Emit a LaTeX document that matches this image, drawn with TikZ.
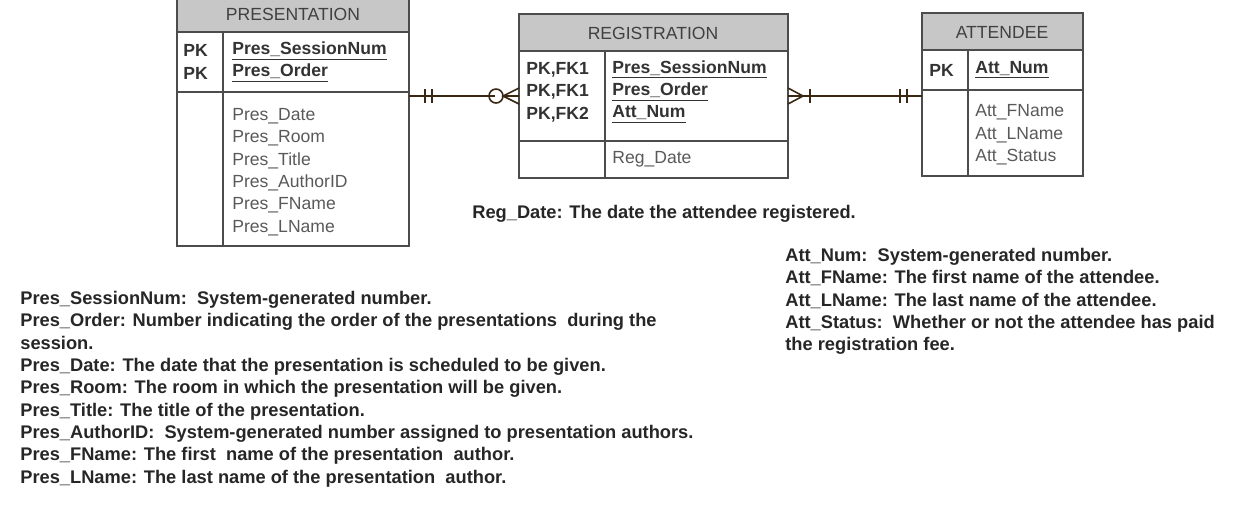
\documentclass[tikz,border=0pt]{standalone}
\usepackage{fontspec}
\setmainfont{Liberation Sans}
\usetikzlibrary{positioning,calc}

\begin{document}
\begin{tikzpicture}[x=0.02cm,y=-0.02cm,
  box/.style={draw=black!70, line width=0.6pt},
  head/.style={box, fill=black!22},
  hdtext/.style={font=\fontsize{10}{12}\selectfont, text=black!75},
  key/.style={anchor=west, font=\fontsize{10}{12.7}\selectfont\bfseries, text=black!80, align=left, inner sep=0pt},
  attr/.style={anchor=west, font=\fontsize{10}{12.7}\selectfont, text=black!65, align=left, inner sep=0pt},
  note/.style={anchor=north west, font=\fontsize{10.4}{12.7}\selectfont\bfseries, text=black!85, align=left, inner sep=0pt},
  rel/.style={draw=black!70!brown, line width=0.9pt}
]
  \useasboundingbox (0,0) rectangle (1256,522);

  % Presentation entity
  \draw[head] (177,-5) rectangle (409,32);
  \node[hdtext] (ptitle) at (293,14) {PRESENTATION};
  \draw[box] (177,32) rectangle (409,246);
  \draw[box] (177,92) -- (409,92) (223,32) -- (223,246);
  \node[key] (pk) at (183,62) {PK\\PK};
  \node[key] (pkeys) at (232,62) {\underline{Pres\_SessionNum}\\\underline{Pres\_Order}};
  \node[attr] (pattr) at (232,172) {Pres\_Date\\Pres\_Room\\Pres\_Title\\Pres\_AuthorID\\Pres\_FName\\Pres\_LName};

  % Registration entity
  \draw[head] (519,14) rectangle (788,51);
  \node[hdtext] (rtitle) at (653,33) {REGISTRATION};
  \draw[box] (519,51) rectangle (788,178);
  \draw[box] (519,141) -- (788,141) (605,51) -- (605,178);
  \node[key] (rk) at (526,92) {PK,FK1\\PK,FK1\\PK,FK2};
  \node[key] (rkeys) at (612,92) {\underline{Pres\_SessionNum}\\\underline{Pres\_Order}\\\underline{Att\_Num}};
  \node[attr] (rattr) at (612,159) {Reg\_Date};

  % Attendee entity
  \draw[head] (922,13) rectangle (1083,50);
  \node[hdtext] (atitle) at (1002,32) {ATTENDEE};
  \draw[box] (922,50) rectangle (1083,176);
  \draw[box] (922,90) -- (1083,90) (968,50) -- (968,176);
  \node[key] (ak) at (929,70) {PK};
  \node[key] (akeys) at (975,70) {\underline{Att\_Num}};
  \node[attr] (aattr) at (975,135) {Att\_FName\\Att\_LName\\Att\_Status};

  % Relationships
  \coordinate (p1) at (409,96);
  \coordinate (r1) at (519,96);
  \coordinate (r2) at (788,96);
  \coordinate (a1) at (922,96);
  \draw[rel] (p1) -- ($(r1)+(-24,0)$);
  \draw[rel] (425,89) -- (425,103) (432,89) -- (432,103);
  \draw[rel] (496,96) circle (7);
  \draw[rel] (r1) -- (503,96) ($(r1)+(0,-8)$) -- (503,96) -- ($(r1)+(0,8)$);
  \draw[rel] (r2) -- (a1);
  \draw[rel] ($(r2)+(0,-8)$) -- (803,96) -- ($(r2)+(0,8)$);
  \draw[rel] (810,89) -- (810,103);
  \draw[rel] (900,89) -- (900,103) (907,89) -- (907,103);

  % Notes
  \node[note] (rnote) at (472,205) {Reg\_Date: The date the attendee registered.};
  \node[note] (anote) at (785,248) {Att\_Num:\ \ System-generated number.\\Att\_FName: The first name of the attendee.\\Att\_LName: The last name of the attendee.\\Att\_Status:\ \ Whether or not the attendee has paid\\the registration fee.};
  \node[note] (pnote) at (20,291) {Pres\_SessionNum:\ \ System-generated number.\\Pres\_Order: Number indicating the order of the presentations\ \ during the\\session.\\Pres\_Date: The date that the presentation is scheduled to be given.\\Pres\_Room: The room in which the presentation will be given.\\Pres\_Title: The title of the presentation.\\Pres\_AuthorID:\ \ System-generated number assigned to presentation authors.\\Pres\_FName: The first\ \ name of the presentation\ \ author.\\Pres\_LName: The last name of the presentation\ \ author.};
\end{tikzpicture}
\end{document}
